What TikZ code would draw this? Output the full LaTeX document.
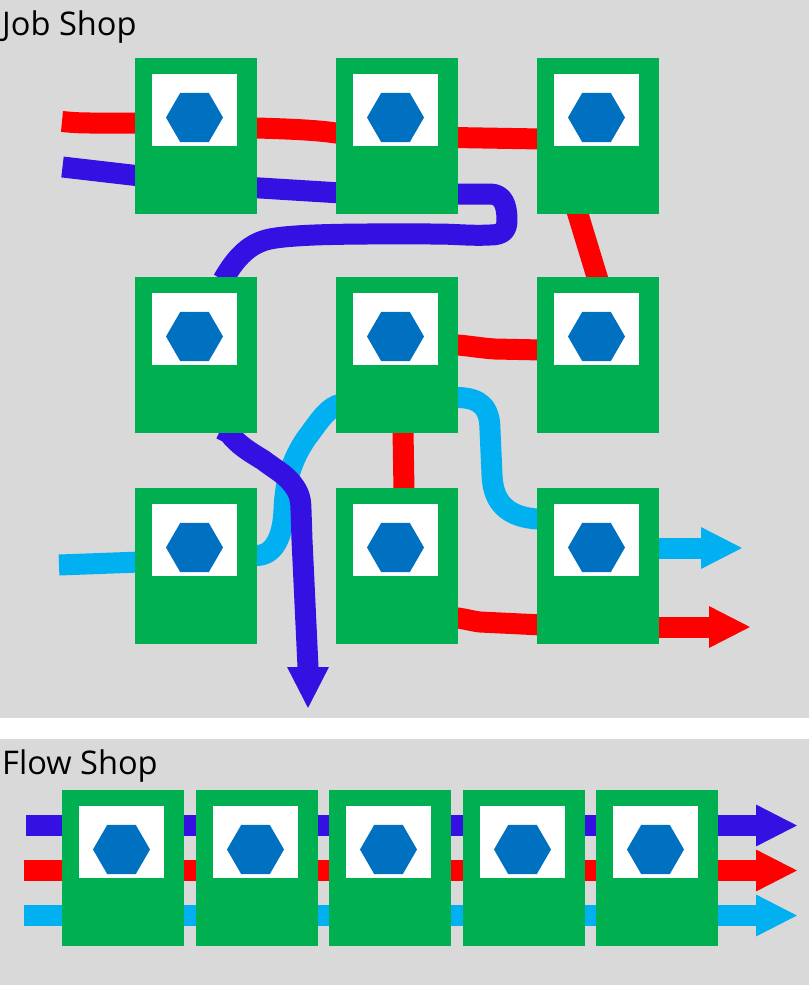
\documentclass[tikz,border=0pt]{standalone}
\usepackage{fontspec}
\setmainfont{Open Sans}
\usetikzlibrary{arrows.meta,shapes.geometric}
\definecolor{panel}{HTML}{D9D9D9}
\definecolor{mgreen}{HTML}{00B050}
\definecolor{hexblue}{HTML}{0070C0}
\definecolor{routeblue}{HTML}{3410E2}
\definecolor{routered}{HTML}{FF0000}
\definecolor{routecyan}{HTML}{00B0F0}
\pgfdeclarelayer{wires}
\pgfdeclarelayer{panels}
\pgfsetlayers{panels,wires,main}
\tikzset{
  machine/.style={rectangle,fill=mgreen,minimum width=122pt,minimum height=156pt,inner sep=0pt,outer sep=0pt,anchor=north west},
  window/.style={rectangle,fill=white,minimum width=85pt,minimum height=72pt,inner sep=0pt,outer sep=0pt,anchor=north west},
  hexa/.style={regular polygon,regular polygon sides=6,fill=hexblue,minimum size=57pt,inner sep=0pt,outer sep=0pt},
  route/.style={line width=21pt,line cap=butt,line join=round},
  tip/.style={-{Triangle[length=42pt,width=38.5pt]}},
  title/.style={anchor=base west,font=\fontsize{32.6pt}{38pt}\selectfont,inner sep=0pt,text=black}
}
\newcommand{\machineat}[3]{%
  \node[machine] (#1) at (#2,#3) {};
  \node[window] (#1w) at ([shift={(17,16)}]#1.north west) {};
  \node[hexa] (#1h) at ([shift={(59.5,59.5)}]#1.north west) {};
}
\begin{document}
\begin{tikzpicture}[x=1pt,y=-1pt]
\useasboundingbox (0,0) rectangle (809,985);
\begin{pgfonlayer}{panels}
  \fill[white] (0,0) rectangle (809,985);
  \fill[panel] (0,0) rectangle (809,718);
  \fill[panel] (0,739) rectangle (809,985);
\end{pgfonlayer}

\node[title] (jobtitle) at (2,35) {Job Shop};
\node[title] (flowtitle) at (2,774.5) {Flow Shop};

\machineat{a}{135}{58}
\machineat{b}{336}{58}
\machineat{c}{537}{58}
\machineat{d}{135}{277}
\machineat{e}{336}{277}
\machineat{f}{537}{277}
\machineat{g}{135}{488}
\machineat{h}{336}{488}
\machineat{i}{537}{488}

\machineat{p}{62}{790}
\machineat{q}{196}{790}
\machineat{r}{329}{790}
\machineat{s}{463}{790}
\machineat{t}{596}{790}

\coordinate (redin) at (62,121.5);
\coordinate (bluein) at (62.5,167);
\coordinate (cyanin) at (59,565);
\coordinate (blueout) at (308,709);
\coordinate (cyanout) at (743,548);
\coordinate (redout) at (751,627);
\coordinate (fbluein) at (26,825.5);
\coordinate (fredin) at (24,870.5);
\coordinate (fcyanin) at (24,915.5);
\coordinate (fblueout) at (798,825.5);
\coordinate (fredout) at (798,870.5);
\coordinate (fcyanout) at (798,915.5);

\begin{pgfonlayer}{wires}
  % red route
  \draw[route,routered] (redin) .. controls (72,122.5) and (80,123) .. (90,123) -- ([shift={(5,65)}]a.north west);
  \draw[route,routered] ([shift={(-5,70)}]a.north east) -- ([shift={(0,70)}]a.north east) .. controls (290,129) and (315,130) .. ([shift={(0,75)}]b.north west) -- ([shift={(5,75.5)}]b.north west);
  \draw[route,routered] ([shift={(-5,79.5)}]b.north east) -- ([shift={(5,81)}]c.north west);
  \draw[route,routered] ([shift={(40,-3)}]c.south west) -- ([shift={(61,3)}]f.north west);
  \draw[route,routered] ([shift={(-5,68)}]e.north east) -- ([shift={(0,68)}]e.north east) .. controls (470,346) and (480,348) .. (495,349) -- ([shift={(5,73)}]f.north west);
  \draw[route,routered] ([shift={(67,-3)}]e.south west) -- ([shift={(68,3)}]h.north west);
  \draw[route,routered] ([shift={(-5,129.5)}]h.north east) -- ([shift={(0,130)}]h.north east) .. controls (465,619) and (472,621) .. (480,622) -- ([shift={(5,137)}]i.north west);
  \draw[route,routered,tip] ([shift={(-5,139)}]i.north east) -- (redout);

  % cyan route
  \draw[route,routecyan] (cyanin) -- ([shift={(5,74)}]g.north west);
  \draw[route,routecyan] ([shift={(-5,67.5)}]g.north east) -- ([shift={(0,67.5)}]g.north east) .. controls (275,555) and (283,535) .. (284,510) .. controls (285,480) and (293,455) .. (311,432) .. controls (320,420) and (328,407) .. ([shift={(5,127)}]e.north west);
  \draw[route,routecyan] ([shift={(-5,120.5)}]e.north east) -- ([shift={(0,120.5)}]e.north east) .. controls (480,398) and (490,407) .. (490,430) -- (492,475) .. controls (493,505) and (510,517) .. ([shift={(0,31)}]i.north west) -- ([shift={(5,31)}]i.north west);
  \draw[route,routecyan,tip] ([shift={(-5,60)}]i.north east) -- (cyanout);

  % blue route
  \draw[route,routeblue] (bluein) -- ([shift={(5,118)}]a.north west);
  \draw[route,routeblue] ([shift={(-5,129.5)}]a.north east) -- ([shift={(5,135)}]b.north west);
  \draw[route,routeblue] ([shift={(-5,136)}]b.north east) -- (490,194) .. controls (503,194) and (507,205) .. (507,220) .. controls (507,230) and (503,235) .. (490,235) .. controls (470,236) and (455,234) .. (436,234) .. controls (380,234) and (300,233) .. (270,239) .. controls (250,243) and (236,257) .. ([shift={(88,3)}]d.north west);
  \draw[route,routeblue,tip] ([shift={(86,-4)}]d.south west) -- ([shift={(94,0)}]d.south west) .. controls (238,445) and (250,452) .. (263,460) .. controls (275,469) and (284,474) .. (290,481) .. controls (298,490) and (301,497) .. (301,510) -- (302,540) -- (308,667) -- (blueout);

  % flow shop lines
  \draw[route,routecyan,tip] (fcyanin) -- (fcyanout);
  \draw[route,routered,tip] (fredin) -- (fredout);
  \draw[route,routeblue,tip] (fbluein) -- (fblueout);
\end{pgfonlayer}
\end{tikzpicture}
\end{document}
